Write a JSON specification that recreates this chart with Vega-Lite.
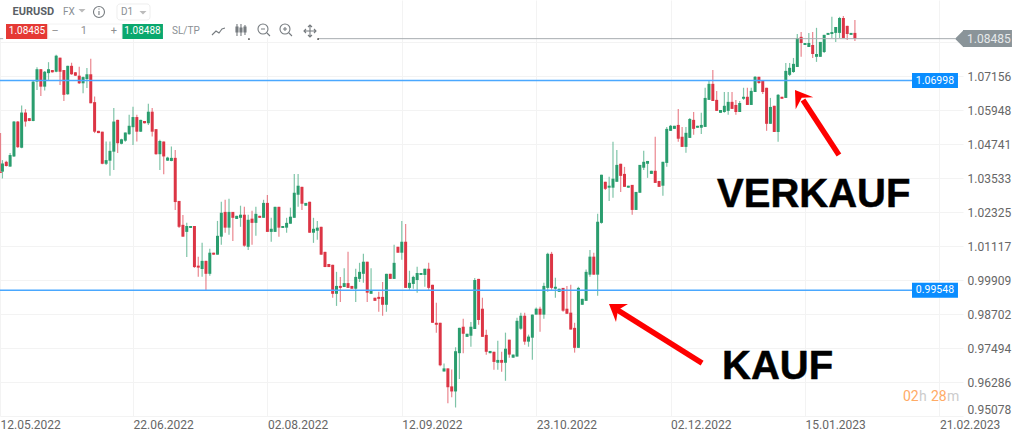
{
  "$schema": "https://vega.github.io/schema/vega-lite/v6.json",
  "width": 963,
  "height": 416,
  "autosize": "none",
  "padding": {"left": 0, "top": 0, "right": 61, "bottom": 18},
  "background": "#ffffff",
  "config": {"view": {"stroke": null}, "text": {"font": "Roboto"}},
  "datasets": {
    "candles": [
      {"i":-0.5,"o":1.0375,"h":1.0513,"l":1.0372,"c":1.0372},
      {"i":0,"o":1.0376,"h":1.0417,"l":1.0352,"c":1.0405},
      {"i":1,"o":1.0411,"h":1.0415,"l":1.0394,"c":1.0396},
      {"i":2,"o":1.0394,"h":1.0442,"l":1.0393,"c":1.0435},
      {"i":3,"o":1.0430,"h":1.0556,"l":1.0428,"c":1.0554},
      {"i":4,"o":1.0554,"h":1.0556,"l":1.0460,"c":1.0463},
      {"i":5,"o":1.0461,"h":1.0611,"l":1.0459,"c":1.0586},
      {"i":6,"o":1.0586,"h":1.0598,"l":1.0536,"c":1.0554},
      {"i":7,"o":1.0566,"h":1.0567,"l":1.0555,"c":1.0556},
      {"i":8,"o":1.0556,"h":1.0698,"l":1.0555,"c":1.0696},
      {"i":9,"o":1.0696,"h":1.0747,"l":1.0666,"c":1.0740},
      {"i":10,"o":1.0740,"h":1.0741,"l":1.0645,"c":1.0678},
      {"i":11,"o":1.0678,"h":1.0734,"l":1.0664,"c":1.0731},
      {"i":12,"o":1.0726,"h":1.0765,"l":1.0702,"c":1.0740},
      {"i":13,"o":1.0737,"h":1.0737,"l":1.0728,"c":1.0729},
      {"i":14,"o":1.0731,"h":1.0791,"l":1.0729,"c":1.0788},
      {"i":15,"o":1.0781,"h":1.0781,"l":1.0684,"c":1.0731},
      {"i":16,"o":1.0737,"h":1.0737,"l":1.0627,"c":1.0649},
      {"i":17,"o":1.0651,"h":1.0752,"l":1.0649,"c":1.0752},
      {"i":18,"o":1.0752,"h":1.0763,"l":1.0720,"c":1.0722},
      {"i":19,"o":1.0729,"h":1.0730,"l":1.0716,"c":1.0717},
      {"i":20,"o":1.0717,"h":1.0749,"l":1.0687,"c":1.0690},
      {"i":21,"o":1.0690,"h":1.0714,"l":1.0655,"c":1.0712},
      {"i":22,"o":1.0705,"h":1.0744,"l":1.0673,"c":1.0722},
      {"i":23,"o":1.0722,"h":1.0777,"l":1.0619,"c":1.0619},
      {"i":24,"o":1.0623,"h":1.0643,"l":1.0513,"c":1.0518},
      {"i":25,"o":1.0521,"h":1.0521,"l":1.0513,"c":1.0513},
      {"i":26,"o":1.0518,"h":1.0518,"l":1.0402,"c":1.0404},
      {"i":27,"o":1.0404,"h":1.0483,"l":1.0400,"c":1.0417},
      {"i":28,"o":1.0415,"h":1.0483,"l":1.0361,"c":1.0450},
      {"i":29,"o":1.0447,"h":1.0602,"l":1.0382,"c":1.0554},
      {"i":30,"o":1.0560,"h":1.0560,"l":1.0442,"c":1.0477},
      {"i":31,"o":1.0475,"h":1.0493,"l":1.0473,"c":1.0491},
      {"i":32,"o":1.0486,"h":1.0515,"l":1.0482,"c":1.0515},
      {"i":33,"o":1.0509,"h":1.0578,"l":1.0507,"c":1.0539},
      {"i":34,"o":1.0534,"h":1.0607,"l":1.0471,"c":1.0570},
      {"i":35,"o":1.0570,"h":1.0578,"l":1.0483,"c":1.0518},
      {"i":36,"o":1.0518,"h":1.0560,"l":1.0517,"c":1.0560},
      {"i":37,"o":1.0556,"h":1.0556,"l":1.0547,"c":1.0548},
      {"i":38,"o":1.0548,"h":1.0617,"l":1.0542,"c":1.0589},
      {"i":39,"o":1.0589,"h":1.0602,"l":1.0501,"c":1.0518},
      {"i":40,"o":1.0527,"h":1.0527,"l":1.0436,"c":1.0438},
      {"i":41,"o":1.0438,"h":1.0489,"l":1.0382,"c":1.0485},
      {"i":42,"o":1.0483,"h":1.0483,"l":1.0367,"c":1.0430},
      {"i":43,"o":1.0415,"h":1.0429,"l":1.0414,"c":1.0426},
      {"i":44,"o":1.0414,"h":1.0465,"l":1.0413,"c":1.0425},
      {"i":45,"o":1.0425,"h":1.0453,"l":1.0240,"c":1.0268},
      {"i":46,"o":1.0272,"h":1.0272,"l":1.0176,"c":1.0180},
      {"i":47,"o":1.0187,"h":1.0222,"l":1.0145,"c":1.0145},
      {"i":48,"o":1.0162,"h":1.0194,"l":1.0073,"c":1.0183},
      {"i":49,"o":1.0176,"h":1.0183,"l":1.0176,"c":1.0183},
      {"i":50,"o":1.0183,"h":1.0183,"l":1.0034,"c":1.0037},
      {"i":51,"o":1.0042,"h":1.0074,"l":1.0003,"c":1.0035},
      {"i":52,"o":1.0030,"h":1.0123,"l":1.0003,"c":1.0059},
      {"i":53,"o":1.0059,"h":1.0059,"l":0.9955,"c":1.0013},
      {"i":54,"o":1.0013,"h":1.0102,"l":1.0006,"c":1.0088},
      {"i":55,"o":1.0088,"h":1.0088,"l":1.0081,"c":1.0081},
      {"i":56,"o":1.0081,"h":1.0201,"l":1.0081,"c":1.0148},
      {"i":57,"o":1.0145,"h":1.0269,"l":1.0116,"c":1.0230},
      {"i":58,"o":1.0233,"h":1.0276,"l":1.0159,"c":1.0177},
      {"i":59,"o":1.0177,"h":1.0280,"l":1.0152,"c":1.0233},
      {"i":60,"o":1.0233,"h":1.0233,"l":1.0130,"c":1.0212},
      {"i":61,"o":1.0208,"h":1.0219,"l":1.0208,"c":1.0219},
      {"i":62,"o":1.0212,"h":1.0255,"l":1.0180,"c":1.0223},
      {"i":63,"o":1.0223,"h":1.0251,"l":1.0109,"c":1.0113},
      {"i":64,"o":1.0109,"h":1.0223,"l":1.0098,"c":1.0205},
      {"i":65,"o":1.0209,"h":1.0237,"l":1.0116,"c":1.0194},
      {"i":66,"o":1.0194,"h":1.0251,"l":1.0148,"c":1.0226},
      {"i":67,"o":1.0219,"h":1.0219,"l":1.0212,"c":1.0212},
      {"i":68,"o":1.0212,"h":1.0276,"l":1.0212,"c":1.0265},
      {"i":69,"o":1.0265,"h":1.0293,"l":1.0162,"c":1.0162},
      {"i":70,"o":1.0162,"h":1.0212,"l":1.0127,"c":1.0173},
      {"i":71,"o":1.0162,"h":1.0251,"l":1.0162,"c":1.0251},
      {"i":72,"o":1.0251,"h":1.0251,"l":1.0145,"c":1.0177},
      {"i":73,"o":1.0176,"h":1.0183,"l":1.0176,"c":1.0183},
      {"i":74,"o":1.0177,"h":1.0212,"l":1.0159,"c":1.0194},
      {"i":75,"o":1.0191,"h":1.0248,"l":1.0191,"c":1.0216},
      {"i":76,"o":1.0212,"h":1.0368,"l":1.0212,"c":1.0301},
      {"i":77,"o":1.0294,"h":1.0368,"l":1.0251,"c":1.0326},
      {"i":78,"o":1.0322,"h":1.0322,"l":1.0240,"c":1.0262},
      {"i":79,"o":1.0255,"h":1.0265,"l":1.0255,"c":1.0265},
      {"i":80,"o":1.0269,"h":1.0269,"l":1.0159,"c":1.0159},
      {"i":81,"o":1.0159,"h":1.0212,"l":1.0123,"c":1.0173},
      {"i":82,"o":1.0166,"h":1.0201,"l":1.0134,"c":1.0177},
      {"i":83,"o":1.0180,"h":1.0180,"l":1.0081,"c":1.0081},
      {"i":84,"o":1.0091,"h":1.0091,"l":1.0037,"c":1.0037},
      {"i":85,"o":1.0048,"h":1.0048,"l":1.0037,"c":1.0037},
      {"i":86,"o":1.0045,"h":1.0045,"l":0.9928,"c":0.9942},
      {"i":87,"o":0.9942,"h":1.0020,"l":0.9899,"c":0.9970},
      {"i":88,"o":0.9970,"h":1.0002,"l":0.9913,"c":0.9963},
      {"i":89,"o":0.9966,"h":1.0033,"l":0.9966,"c":0.9980},
      {"i":90,"o":0.9980,"h":1.0091,"l":0.9963,"c":0.9963},
      {"i":91,"o":0.9970,"h":0.9970,"l":0.9960,"c":0.9960},
      {"i":92,"o":0.9960,"h":1.0031,"l":0.9913,"c":1.0002},
      {"i":93,"o":0.9995,"h":1.0052,"l":0.9984,"c":1.0020},
      {"i":94,"o":1.0013,"h":1.0084,"l":0.9981,"c":1.0056},
      {"i":95,"o":1.0056,"h":1.0056,"l":0.9913,"c":0.9946},
      {"i":96,"o":0.9942,"h":1.0033,"l":0.9942,"c":0.9952},
      {"i":97,"o":0.9928,"h":0.9928,"l":0.9917,"c":0.9917},
      {"i":98,"o":0.9931,"h":0.9949,"l":0.9878,"c":0.9924},
      {"i":99,"o":0.9931,"h":0.9984,"l":0.9864,"c":0.9903},
      {"i":100,"o":0.9903,"h":1.0013,"l":0.9878,"c":1.0013},
      {"i":101,"o":1.0013,"h":1.0013,"l":0.9995,"c":0.9995},
      {"i":102,"o":0.9995,"h":1.0116,"l":0.9995,"c":1.0052},
      {"i":103,"o":1.0109,"h":1.0109,"l":1.0088,"c":1.0088},
      {"i":104,"o":1.0088,"h":1.0201,"l":1.0063,"c":1.0127},
      {"i":105,"o":1.0127,"h":1.0190,"l":0.9963,"c":0.9963},
      {"i":106,"o":0.9963,"h":1.0024,"l":0.9956,"c":0.9981},
      {"i":107,"o":0.9977,"h":1.0006,"l":0.9960,"c":1.0002},
      {"i":108,"o":0.9991,"h":1.0038,"l":0.9946,"c":1.0016},
      {"i":109,"o":1.0009,"h":1.0016,"l":1.0009,"c":1.0016},
      {"i":110,"o":1.0009,"h":1.0031,"l":0.9967,"c":1.0031},
      {"i":111,"o":1.0031,"h":1.0052,"l":0.9956,"c":0.9963},
      {"i":112,"o":0.9974,"h":0.9974,"l":0.9839,"c":0.9839},
      {"i":113,"o":0.9839,"h":0.9910,"l":0.9804,"c":0.9832},
      {"i":114,"o":0.9839,"h":0.9839,"l":0.9685,"c":0.9688},
      {"i":115,"o":0.9666,"h":0.9694,"l":0.9666,"c":0.9677},
      {"i":116,"o":0.9677,"h":0.9677,"l":0.9553,"c":0.9610},
      {"i":117,"o":0.9613,"h":0.9673,"l":0.9574,"c":0.9595},
      {"i":118,"o":0.9595,"h":0.9752,"l":0.9538,"c":0.9738},
      {"i":119,"o":0.9731,"h":0.9821,"l":0.9639,"c":0.9821},
      {"i":120,"o":0.9825,"h":0.9853,"l":0.9731,"c":0.9800},
      {"i":121,"o":0.9789,"h":0.9800,"l":0.9789,"c":0.9800},
      {"i":122,"o":0.9793,"h":0.9842,"l":0.9754,"c":0.9825},
      {"i":123,"o":0.9817,"h":0.9998,"l":0.9817,"c":0.9991},
      {"i":124,"o":0.9995,"h":0.9995,"l":0.9832,"c":0.9849},
      {"i":125,"o":0.9889,"h":0.9928,"l":0.9789,"c":0.9789},
      {"i":126,"o":0.9796,"h":0.9814,"l":0.9725,"c":0.9736},
      {"i":127,"o":0.9731,"h":0.9739,"l":0.9731,"c":0.9739},
      {"i":128,"o":0.9736,"h":0.9736,"l":0.9672,"c":0.9700},
      {"i":129,"o":0.9697,"h":0.9775,"l":0.9672,"c":0.9707},
      {"i":130,"o":0.9707,"h":0.9736,"l":0.9665,"c":0.9697},
      {"i":131,"o":0.9697,"h":0.9804,"l":0.9633,"c":0.9747},
      {"i":132,"o":0.9779,"h":0.9779,"l":0.9715,"c":0.9726},
      {"i":133,"o":0.9715,"h":0.9726,"l":0.9715,"c":0.9726},
      {"i":134,"o":0.9719,"h":0.9857,"l":0.9719,"c":0.9846},
      {"i":135,"o":0.9818,"h":0.9875,"l":0.9814,"c":0.9864},
      {"i":136,"o":0.9864,"h":0.9875,"l":0.9761,"c":0.9772},
      {"i":137,"o":0.9772,"h":0.9797,"l":0.9754,"c":0.9790},
      {"i":138,"o":0.9786,"h":0.9868,"l":0.9708,"c":0.9868},
      {"i":139,"o":0.9868,"h":0.9893,"l":0.9868,"c":0.9889},
      {"i":140,"o":0.9889,"h":0.9896,"l":0.9807,"c":0.9868},
      {"i":141,"o":0.9868,"h":0.9981,"l":0.9853,"c":0.9970},
      {"i":142,"o":0.9963,"h":1.0088,"l":0.9949,"c":1.0084},
      {"i":143,"o":1.0084,"h":1.0091,"l":0.9956,"c":0.9963},
      {"i":144,"o":0.9960,"h":0.9999,"l":0.9928,"c":0.9967},
      {"i":145,"o":0.9949,"h":0.9960,"l":0.9949,"c":0.9960},
      {"i":146,"o":0.9963,"h":0.9963,"l":0.9878,"c":0.9882},
      {"i":147,"o":0.9889,"h":0.9970,"l":0.9871,"c":0.9871},
      {"i":148,"o":0.9875,"h":0.9974,"l":0.9815,"c":0.9815},
      {"i":149,"o":0.9821,"h":0.9839,"l":0.9733,"c":0.9750},
      {"i":150,"o":0.9750,"h":0.9967,"l":0.9750,"c":0.9963},
      {"i":151,"o":0.9903,"h":0.9924,"l":0.9903,"c":0.9924},
      {"i":152,"o":0.9917,"h":1.0028,"l":0.9917,"c":1.0020},
      {"i":153,"o":1.0010,"h":1.0098,"l":1.0003,"c":1.0074},
      {"i":154,"o":1.0074,"h":1.0088,"l":1.0010,"c":1.0010},
      {"i":155,"o":1.0010,"h":1.0226,"l":0.9935,"c":1.0198},
      {"i":156,"o":1.0194,"h":1.0365,"l":1.0191,"c":1.0365},
      {"i":157,"o":1.0340,"h":1.0340,"l":1.0311,"c":1.0315},
      {"i":158,"o":1.0319,"h":1.0358,"l":1.0272,"c":1.0326},
      {"i":159,"o":1.0319,"h":1.0482,"l":1.0283,"c":1.0351},
      {"i":160,"o":1.0340,"h":1.0453,"l":1.0340,"c":1.0400},
      {"i":161,"o":1.0404,"h":1.0404,"l":1.0304,"c":1.0361},
      {"i":162,"o":1.0368,"h":1.0393,"l":1.0322,"c":1.0322},
      {"i":163,"o":1.0319,"h":1.0326,"l":1.0319,"c":1.0326},
      {"i":164,"o":1.0329,"h":1.0329,"l":1.0223,"c":1.0240},
      {"i":165,"o":1.0240,"h":1.0304,"l":1.0240,"c":1.0304},
      {"i":166,"o":1.0301,"h":1.0400,"l":1.0301,"c":1.0400},
      {"i":167,"o":1.0390,"h":1.0450,"l":1.0382,"c":1.0411},
      {"i":168,"o":1.0404,"h":1.0414,"l":1.0354,"c":1.0414},
      {"i":169,"o":1.0368,"h":1.0379,"l":1.0368,"c":1.0379},
      {"i":170,"o":1.0379,"h":1.0500,"l":1.0336,"c":1.0336},
      {"i":171,"o":1.0343,"h":1.0343,"l":1.0322,"c":1.0322},
      {"i":172,"o":1.0326,"h":1.0411,"l":1.0290,"c":1.0411},
      {"i":173,"o":1.0407,"h":1.0535,"l":1.0393,"c":1.0528},
      {"i":174,"o":1.0521,"h":1.0542,"l":1.0521,"c":1.0539},
      {"i":175,"o":1.0528,"h":1.0539,"l":1.0528,"c":1.0539},
      {"i":176,"o":1.0542,"h":1.0599,"l":1.0482,"c":1.0493},
      {"i":177,"o":1.0500,"h":1.0535,"l":1.0464,"c":1.0464},
      {"i":178,"o":1.0464,"h":1.0535,"l":1.0443,"c":1.0514},
      {"i":179,"o":1.0496,"h":1.0567,"l":1.0496,"c":1.0563},
      {"i":180,"o":1.0560,"h":1.0588,"l":1.0507,"c":1.0528},
      {"i":181,"o":1.0532,"h":1.0539,"l":1.0532,"c":1.0539},
      {"i":182,"o":1.0532,"h":1.0585,"l":1.0510,"c":1.0542},
      {"i":183,"o":1.0535,"h":1.0674,"l":1.0535,"c":1.0638},
      {"i":184,"o":1.0631,"h":1.0698,"l":1.0631,"c":1.0688},
      {"i":185,"o":1.0688,"h":1.0737,"l":1.0627,"c":1.0627},
      {"i":186,"o":1.0631,"h":1.0663,"l":1.0592,"c":1.0592},
      {"i":187,"o":1.0585,"h":1.0595,"l":1.0585,"c":1.0595},
      {"i":188,"o":1.0588,"h":1.0659,"l":1.0585,"c":1.0610},
      {"i":189,"o":1.0592,"h":1.0659,"l":1.0578,"c":1.0624},
      {"i":190,"o":1.0624,"h":1.0659,"l":1.0599,"c":1.0599},
      {"i":191,"o":1.0613,"h":1.0631,"l":1.0578,"c":1.0588},
      {"i":192,"o":1.0588,"h":1.0627,"l":1.0588,"c":1.0620},
      {"i":193,"o":1.0635,"h":1.0674,"l":1.0631,"c":1.0642},
      {"i":194,"o":1.0642,"h":1.0674,"l":1.0613,"c":1.0613},
      {"i":195,"o":1.0613,"h":1.0674,"l":1.0613,"c":1.0663},
      {"i":196,"o":1.0659,"h":1.0716,"l":1.0659,"c":1.0713},
      {"i":197,"o":1.0713,"h":1.0713,"l":1.0688,"c":1.0691},
      {"i":198,"o":1.0698,"h":1.0698,"l":1.0652,"c":1.0659},
      {"i":199,"o":1.0674,"h":1.0674,"l":1.0521,"c":1.0546},
      {"i":200,"o":1.0546,"h":1.0638,"l":1.0546,"c":1.0606},
      {"i":201,"o":1.0610,"h":1.0610,"l":1.0517,"c":1.0517},
      {"i":202,"o":1.0517,"h":1.0652,"l":1.0482,"c":1.0649},
      {"i":203,"o":1.0642,"h":1.0642,"l":1.0635,"c":1.0635},
      {"i":204,"o":1.0638,"h":1.0762,"l":1.0638,"c":1.0734},
      {"i":205,"o":1.0720,"h":1.0762,"l":1.0716,"c":1.0745},
      {"i":206,"o":1.0730,"h":1.0780,"l":1.0727,"c":1.0759},
      {"i":207,"o":1.0748,"h":1.0865,"l":1.0748,"c":1.0851},
      {"i":208,"o":1.0855,"h":1.0872,"l":1.0784,"c":1.0833},
      {"i":209,"o":1.0826,"h":1.0833,"l":1.0826,"c":1.0833},
      {"i":210,"o":1.0819,"h":1.0869,"l":1.0819,"c":1.0833},
      {"i":211,"o":1.0826,"h":1.0872,"l":1.0780,"c":1.0794},
      {"i":212,"o":1.0784,"h":1.0887,"l":1.0766,"c":1.0794},
      {"i":213,"o":1.0784,"h":1.0837,"l":1.0784,"c":1.0837},
      {"i":214,"o":1.0801,"h":1.0862,"l":1.0798,"c":1.0862},
      {"i":215,"o":1.0862,"h":1.0869,"l":1.0862,"c":1.0869},
      {"i":216,"o":1.0865,"h":1.0926,"l":1.0851,"c":1.0872},
      {"i":217,"o":1.0869,"h":1.0890,"l":1.0837,"c":1.0890},
      {"i":218,"o":1.0869,"h":1.0926,"l":1.0851,"c":1.0922},
      {"i":219,"o":1.0922,"h":1.0929,"l":1.0851,"c":1.0851},
      {"i":220,"o":1.0894,"h":1.0894,"l":1.0844,"c":1.0865},
      {"i":221,"o":1.0862,"h":1.0869,"l":1.0862,"c":1.0869},
      {"i":222,"o":1.0869,"h":1.0915,"l":1.0840,"c":1.08485}
    ]
  },
  "layer": [
    {
      "data": {"name": "candles"},
      "mark": {"type": "rule", "strokeWidth": 1.2, "opacity": 0.6},
      "encoding": {
        "x": {
          "field": "i",
          "type": "quantitative",
          "scale": {"domain": [-0.635, 250.15], "nice": false, "zero": false},
          "axis": {
            "title": null,
            "orient": "bottom",
            "values": [-0.635, 34, 69, 104, 139, 174, 209, 244],
            "tickCount": 30,
            "labelExpr": "{'-0.635':'12.05.2022','34':'22.06.2022','69':'02.08.2022','104':'12.09.2022','139':'23.10.2022','174':'02.12.2022','209':'15.01.2023','244':'21.02.2023'}[datum.value]",
            "labelAlign": "left",
            "labelFlush": false,
            "labelOverlap": false,
            "labelBound": false,
            "labelFont": "Roboto",
            "labelFontSize": 12,
            "labelColor": "#666666",
            "labelPadding": 3,
            "ticks": false,
            "domain": false,
            "grid": true,
            "gridColor": "#f3f3f3",
            "gridWidth": 1
          }
        },
        "y": {
          "field": "l",
          "type": "quantitative",
          "scale": {"domain": [0.95078, 1.09859], "nice": false, "zero": false},
          "axis": {
            "title": null,
            "orient": "right",
            "values": [1.08364, 1.07156, 1.05948, 1.04741, 1.03533, 1.02325, 1.01117, 0.99909, 0.98702, 0.97494, 0.96286, 0.95078],
            "tickCount": 30,
            "format": ".5f",
            "labelExpr": "datum.value > 1.08 ? '' : datum.label",
            "labelAlign": "left",
            "labelFlush": true,
            "labelOverlap": false,
            "labelBound": false,
            "labelFont": "Roboto",
            "labelFontSize": 12,
            "labelColor": "#666666",
            "labelPadding": 4,
            "ticks": false,
            "domain": false,
            "grid": true,
            "gridColor": "#f3f3f3",
            "gridWidth": 1
          }
        },
        "y2": {"field": "h"},
        "color": {"condition": {"test": "datum.c >= datum.o", "value": "#2a9d6e"}, "value": "#dc3545"}
      }
    },
    {
      "data": {"name": "candles"},
      "mark": {"type": "rule", "strokeWidth": 3},
      "encoding": {
        "x": {"field": "i", "type": "quantitative", "title": null},
        "y": {"field": "o", "type": "quantitative", "title": null},
        "y2": {"field": "c"},
        "color": {"condition": {"test": "datum.c >= datum.o", "value": "#2a9d6e"}, "value": "#dc3545"}
      }
    },
    {
      "data": {"values": [{"i": -0.635, "i2": 82.7, "p": 1.09859, "p2": 1.0852}]},
      "mark": {"type": "rect", "fill": "#ffffff"},
      "encoding": {
        "x": {"field": "i", "type": "quantitative", "title": null},
        "x2": {"field": "i2"},
        "y": {"field": "p", "type": "quantitative", "title": null},
        "y2": {"field": "p2"}
      }
    },
    {
      "data": {"values": [{"i": -0.635, "i2": 236.9, "p": 1.06998}, {"i": -0.635, "i2": 236.9, "p": 0.99548}]},
      "mark": {"type": "rule", "stroke": "#4aa8ff", "strokeWidth": 1.4},
      "encoding": {
        "x": {"field": "i", "type": "quantitative", "title": null},
        "x2": {"field": "i2"},
        "y": {"field": "p", "type": "quantitative", "title": null}
      }
    },
    {
      "data": {"values": [{"i": 82.2, "i2": 248.1, "p": 1.08485}, {"i": -0.635, "i2": 0.2, "p": 1.08485}]},
      "mark": {"type": "rule", "stroke": "#a8adb0", "strokeWidth": 1},
      "encoding": {
        "x": {"field": "i", "type": "quantitative", "title": null},
        "x2": {"field": "i2"},
        "y": {"field": "p", "type": "quantitative", "title": null}
      }
    },
    {
      "data": {"values": [{"i": 236.87, "i2": 248.84, "p": 1.07265, "p2": 1.06731}, {"i": 236.87, "i2": 248.84, "p": 0.99815, "p2": 0.99281}]},
      "mark": {"type": "rect", "fill": "#0a8dff"},
      "encoding": {
        "x": {"field": "i", "type": "quantitative", "title": null},
        "x2": {"field": "i2"},
        "y": {"field": "p", "type": "quantitative", "title": null},
        "y2": {"field": "p2"}
      }
    },
    {
      "data": {"values": [{"i": 242.85, "p": 1.06998, "t": "1.06998"}, {"i": 242.85, "p": 0.99548, "t": "0.99548"}]},
      "mark": {"type": "text", "color": "#ffffff", "fontSize": 10.5, "align": "center", "baseline": "middle"},
      "encoding": {
        "x": {"field": "i", "type": "quantitative", "title": null},
        "y": {"field": "p", "type": "quantitative", "title": null},
        "text": {"field": "t"}
      }
    },
    {
      "data": {"values": [{"i": 250.15, "i2": 262.9, "p": 1.08793, "p2": 1.08189}]},
      "mark": {"type": "rect", "fill": "#8a9499"},
      "encoding": {
        "x": {"field": "i", "type": "quantitative", "title": null},
        "x2": {"field": "i2"},
        "y": {"field": "p", "type": "quantitative", "title": null},
        "y2": {"field": "p2"}
      }
    },
    {
      "data": {"values": [{"i": 250.15, "p": 1.08485}]},
      "mark": {"type": "point", "shape": "M-8,0L0.5,-8.5L0.5,8.5Z", "size": 4, "filled": true, "fill": "#8a9499", "opacity": 1, "strokeWidth": 0},
      "encoding": {
        "x": {"field": "i", "type": "quantitative", "title": null},
        "y": {"field": "p", "type": "quantitative", "title": null}
      }
    },
    {
      "data": {"values": [{"i": 251.2, "p": 1.08485, "t": "1.08485"}]},
      "mark": {"type": "text", "color": "#e6e9ea", "fontSize": 12, "align": "left", "baseline": "middle"},
      "encoding": {
        "x": {"field": "i", "type": "quantitative", "title": null},
        "y": {"field": "p", "type": "quantitative", "title": null},
        "text": {"field": "t"}
      }
    },
    {
      "data": {"values": [{"i": 234.5, "p": 0.95761, "t": "02"}, {"i": 241.8, "p": 0.95761, "t": "28"}]},
      "mark": {"type": "text", "color": "#ffab66", "fontSize": 14, "align": "left", "baseline": "middle"},
      "encoding": {
        "x": {"field": "i", "type": "quantitative", "title": null},
        "y": {"field": "p", "type": "quantitative", "title": null},
        "text": {"field": "t"}
      }
    },
    {
      "data": {"values": [{"i": 238.7, "p": 0.95761, "t": "h"}, {"i": 246, "p": 0.95761, "t": "m"}]},
      "mark": {"type": "text", "color": "#cccccc", "fontSize": 14, "align": "left", "baseline": "middle"},
      "encoding": {
        "x": {"field": "i", "type": "quantitative", "title": null},
        "y": {"field": "p", "type": "quantitative", "title": null},
        "text": {"field": "t"}
      }
    },
    {
      "data": {"values": [{"i": 208.48, "i2": 217.84, "p": 1.06305, "p2": 1.04351}, {"i": 159.8, "i2": 182.2, "p": 0.98878, "p2": 0.96959}]},
      "mark": {"type": "rule", "stroke": "#fe0000", "strokeWidth": 5.5},
      "encoding": {
        "x": {"field": "i", "type": "quantitative", "title": null},
        "x2": {"field": "i2"},
        "y": {"field": "p", "type": "quantitative", "title": null},
        "y2": {"field": "p2"}
      }
    },
    {
      "data": {"values": [{"i": 206.4, "p": 1.06661}]},
      "mark": {"type": "point", "shape": "M0,0L18.3,7.3L6.7,7.7L0.7,19.3Z", "size": 4, "filled": true, "fill": "#fe0000", "opacity": 1, "strokeWidth": 0},
      "encoding": {
        "x": {"field": "i", "type": "quantitative", "title": null},
        "y": {"field": "p", "type": "quantitative", "title": null}
      }
    },
    {
      "data": {"values": [{"i": 157.96, "p": 0.99056}]},
      "mark": {"type": "point", "shape": "M0,0L19,0L9,6L7,18Z", "size": 4, "filled": true, "fill": "#fe0000", "opacity": 1, "strokeWidth": 0},
      "encoding": {
        "x": {"field": "i", "type": "quantitative", "title": null},
        "y": {"field": "p", "type": "quantitative", "title": null}
      }
    },
    {
      "data": {"values": [{"i": 186.1, "p": 1.02514, "t": "VERKAUF"}, {"i": 187.4, "p": 0.9638, "t": "KAUF"}]},
      "mark": {"type": "text", "font": "Liberation Sans", "fontWeight": "bold", "fontSize": 40, "color": "#000000", "stroke": "#000000", "strokeWidth": 0.5, "align": "left", "baseline": "alphabetic"},
      "encoding": {
        "x": {"field": "i", "type": "quantitative", "title": null},
        "y": {"field": "p", "type": "quantitative", "title": null},
        "text": {"field": "t"}
      }
    },
    {
      "data": {"values": [{"i": 0.93, "i2": 11.73, "p": 1.09006, "p2": 1.08473}]},
      "mark": {"type": "rect", "fill": "#e53935"},
      "encoding": {
        "x": {"field": "i", "type": "quantitative", "title": null},
        "x2": {"field": "i2"},
        "y": {"field": "p", "type": "quantitative", "title": null},
        "y2": {"field": "p2"}
      }
    },
    {
      "data": {"values": [{"i": 31.13, "i2": 41.8, "p": 1.09006, "p2": 1.08473}]},
      "mark": {"type": "rect", "fill": "#0aa86e"},
      "encoding": {
        "x": {"field": "i", "type": "quantitative", "title": null},
        "x2": {"field": "i2"},
        "y": {"field": "p", "type": "quantitative", "title": null},
        "y2": {"field": "p2"}
      }
    },
    {
      "data": {"values": [{"i": 29.83, "i2": 38.43, "p": 1.09717, "p2": 1.09148}]},
      "mark": {"type": "rect", "fill": "#ffffff", "stroke": "#eeeeee", "cornerRadius": 3},
      "encoding": {
        "x": {"field": "i", "type": "quantitative", "title": null},
        "x2": {"field": "i2"},
        "y": {"field": "p", "type": "quantitative", "title": null},
        "y2": {"field": "p2"}
      }
    },
    {
      "data": {"values": [{"i": 11.86, "i2": 31.13, "p": 1.09006, "p2": 1.08473}]},
      "mark": {"type": "rect", "fill": "#ffffff", "stroke": "#f2f2f2"},
      "encoding": {
        "x": {"field": "i", "type": "quantitative", "title": null},
        "x2": {"field": "i2"},
        "y": {"field": "p", "type": "quantitative", "title": null},
        "y2": {"field": "p2"}
      }
    },
    {
      "data": {"values": [{"i": 6.4, "p": 1.0874, "t": "1.08485"}, {"i": 36.47, "p": 1.0874, "t": "1.08488"}]},
      "mark": {"type": "text", "color": "#ffffff", "fontSize": 10, "align": "center", "baseline": "middle"},
      "encoding": {
        "x": {"field": "i", "type": "quantitative", "title": null},
        "y": {"field": "p", "type": "quantitative", "title": null},
        "text": {"field": "t"}
      }
    },
    {
      "data": {"values": [{"i": 2.62, "p": 1.09433, "t": "EURUSD"}]},
      "mark": {"type": "text", "color": "#5a5f66", "fontSize": 11, "fontWeight": "bold", "align": "left", "baseline": "middle"},
      "encoding": {
        "x": {"field": "i", "type": "quantitative", "title": null},
        "y": {"field": "p", "type": "quantitative", "title": null},
        "text": {"field": "t"}
      }
    },
    {
      "data": {"values": [{"i": 15.77, "p": 1.09433, "t": "FX"}, {"i": 30.87, "p": 1.09433, "t": "D1"}, {"i": 44.15, "p": 1.0874, "t": "SL/TP"}]},
      "mark": {"type": "text", "color": "#8a8f94", "fontSize": 10, "align": "left", "baseline": "middle"},
      "encoding": {
        "x": {"field": "i", "type": "quantitative", "title": null},
        "y": {"field": "p", "type": "quantitative", "title": null},
        "text": {"field": "t"}
      }
    },
    {
      "data": {"values": [{"i": 13.7, "p": 1.0874, "t": "–"}, {"i": 21.2, "p": 1.0874, "t": "1"}, {"i": 29.05, "p": 1.0874, "t": "+"}]},
      "mark": {"type": "text", "color": "#8f8f8f", "fontSize": 11, "align": "center", "baseline": "middle"},
      "encoding": {
        "x": {"field": "i", "type": "quantitative", "title": null},
        "y": {"field": "p", "type": "quantitative", "title": null},
        "text": {"field": "t"}
      }
    },
    {
      "data": {"values": [{"i": 67.07, "p": 1.08793}]},
      "mark": {"type": "point", "shape": "M-48,5L-44,1L-41,3L-38,-1L-35,-2M-23,-6V6M-19,-6V6M-15,-5V5M-24,-3h2v5h-2zM-20,-2h2v4h-2zM-16,-3h2v5h-2zM8,-1A5,5 0 1,1 -2,-1A5,5 0 1,1 8,-1M7,3L10,6M1,-1H5M30,-1A5,5 0 1,1 20,-1A5,5 0 1,1 30,-1M29,3L32,6M23,-1H27M25,-3V1M44,1H56M50,-5V7M46,-1L44,1L46,3M54,-1L56,1L54,3M48,-3L50,-5L52,-3M48,5L50,7L52,5M-155.5,-18A5.5,5.5 0 1,1 -166.5,-18A5.5,5.5 0 1,1 -155.5,-18M-161,-19V-15M-161,-21.5V-20.5", "size": 4, "filled": false, "stroke": "#777c80", "strokeWidth": 1.1, "opacity": 1},
      "encoding": {
        "x": {"field": "i", "type": "quantitative", "title": null},
        "y": {"field": "p", "type": "quantitative", "title": null}
      }
    },
    {
      "data": {"values": [{"i": 67.07, "p": 1.08793}]},
      "mark": {"type": "point", "shape": "M-181.5,-21h7l-3.5,3.5zM-120.5,-19h7l-3.5,3.5z", "size": 4, "filled": true, "fill": "#bbbbbb", "opacity": 1, "strokeWidth": 0},
      "encoding": {
        "x": {"field": "i", "type": "quantitative", "title": null},
        "y": {"field": "p", "type": "quantitative", "title": null}
      }
    },
    {
      "data": {"values": [{"i": 64.2, "p": 1.08473}, {"i": 82.2, "p": 1.08473}]},
      "mark": {"type": "point", "shape": "circle", "size": 3, "filled": true, "fill": "#222222", "opacity": 1, "strokeWidth": 0},
      "encoding": {
        "x": {"field": "i", "type": "quantitative", "title": null},
        "y": {"field": "p", "type": "quantitative", "title": null}
      }
    }
  ]
}
